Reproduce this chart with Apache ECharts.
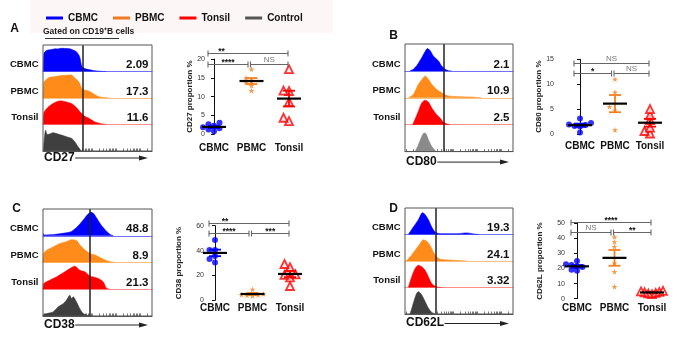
<!DOCTYPE html>
<html><head><meta charset="utf-8">
<script src="https://cdn.jsdelivr.net/npm/echarts@6/dist/echarts.min.js"></script>
<style>html,body{margin:0;padding:0;background:#fff}#c{width:685px;height:338px}</style>
</head><body><div id="c"></div>
<script>
// ---------------- DATA ----------------
const groups = ['CBMC', 'PBMC', 'Tonsil'];
const legendNames = ['CBMC', 'PBMC', 'Tonsil', 'Control'];
const markers = ['CD27', 'CD80', 'CD38', 'CD62L'];
const panelLetters = ['A', 'B', 'C', 'D'];
const gateTitle = 'Gated on CD19\u207AB cells';
const gates = [36.7, 36.2, 43.1, 28.4];           // gate position (channel, 0-100 scale)
const percentA = ['2.09', '17.3', '11.6'];
const percentB = ['2.1', '10.9', '2.5'];
const percentC = ['48.8', '8.9', '21.3'];
const percentD = ['19.3', '24.1', '3.32'];

// histograms: [channel, relative count]
const histA_CBMC = [[0.3,0],[0.9,0.69],[3.1,0.79],[6.1,0.82],[9.2,0.84],[11.5,0.86],[13.8,0.85],[16.5,0.875],[19.9,0.87],[24.5,0.86],[27.5,0.81],[30.6,0.75],[33.6,0.56],[35.2,0.25],[36.7,0.15],[39.8,0.09],[45.9,0.04],[52,0.01],[58,0]];
const histA_PBMC = [[0.3,0],[0.9,0.6],[3.1,0.7],[6.1,0.78],[10.7,0.8],[15.3,0.84],[21.4,0.86],[26,0.87],[29,0.76],[33,0.6],[36.1,0.33],[39.1,0.29],[42.8,0.25],[45.9,0.17],[50.5,0.06],[55,0.02],[61.2,0]];
const histA_Tonsil = [[0.3,0],[0.9,0.45],[4.6,0.65],[9.2,0.79],[13.8,0.88],[16.8,0.89],[21.4,0.85],[26,0.79],[30.6,0.64],[35.2,0.42],[38.2,0.31],[42.8,0.22],[47.4,0.1],[52,0.04],[58,0]];
const histA_Control = [[0.3,0],[1.2,0.45],[2.4,0.78],[4,0.62],[6.1,0.64],[9.2,0.69],[12.2,0.66],[16.8,0.6],[21.4,0.54],[26,0.48],[29,0.36],[31.5,0.2],[33.6,0.08],[35.2,0]];
const histB_CBMC = [[4.6,0],[7.7,0.06],[10.8,0.19],[15.5,0.49],[18.6,0.72],[20.7,0.83],[23.2,0.76],[26.3,0.55],[31,0.37],[34,0.18],[37.2,0.06],[40.2,0.01],[43.3,0]];
const histB_PBMC = [[3.1,0],[7.7,0.12],[12.4,0.5],[17,0.75],[18.6,0.81],[21.7,0.69],[24.8,0.5],[29.4,0.31],[34,0.19],[37.2,0.1],[41.8,0.06],[51,0.04],[60.4,0.03],[68,0.01],[71,0]];
const histB_Tonsil = [[7.1,0],[9.3,0.2],[12.4,0.5],[15.5,0.81],[18.6,0.91],[21.7,0.84],[24.8,0.62],[29.4,0.37],[32.5,0.25],[35.6,0.09],[38.7,0.03],[41.8,0]];
const histB_Control = [[9.3,0],[12.4,0.25],[15.5,0.56],[17.6,0.69],[19.5,0.66],[21.7,0.44],[24.8,0.19],[27.9,0.04],[29.4,0]];
const histC_CBMC = [[0,0.08],[1.5,0.03],[10.8,0.05],[20,0.1],[26.2,0.16],[32.3,0.37],[36.9,0.59],[40.6,0.78],[43.7,0.88],[46.2,0.84],[49.2,0.66],[53.8,0.37],[58.5,0.16],[61.5,0.05],[64.6,0]];
const histC_PBMC = [[0,0],[0.6,0.34],[3.1,0.45],[9.2,0.58],[15.4,0.71],[21.5,0.78],[26.2,0.85],[30.8,0.82],[33.8,0.66],[38.5,0.47],[43.1,0.34],[47.7,0.28],[52.3,0.19],[56.9,0.09],[61.5,0.03],[66.2,0]];
const histC_Tonsil = [[0,0],[0.6,0.21],[6.2,0.34],[12.3,0.46],[20,0.65],[26.2,0.81],[29.2,0.86],[33.8,0.71],[38.5,0.65],[43.1,0.49],[46.2,0.46],[50.8,0.4],[55.4,0.27],[57.8,0.06],[60,0.01],[61.5,0]];
const histC_Control = [[0,0],[0.6,0.06],[4.6,0.1],[9.2,0.15],[13.8,0.34],[18.5,0.46],[21.5,0.59],[24.6,0.78],[26.2,0.65],[27.7,0.72],[30.8,0.52],[33.8,0.27],[36.9,0.09],[40.6,0.03],[43.1,0]];
const histD_CBMC = [[3.1,0],[7.7,0.28],[12.4,0.56],[16.1,0.82],[18,0.78],[21.7,0.56],[24.8,0.28],[27.9,0.09],[31,0.04],[38.7,0.03],[48,0.03],[57.3,0.06],[63.5,0.02],[68.1,0]];
const histD_PBMC = [[0.9,0],[2.2,0.05],[4.6,0.15],[9.3,0.4],[13.9,0.65],[17,0.8],[20.1,0.75],[23.2,0.59],[26.3,0.34],[29.4,0.15],[32.5,0.07],[40.2,0.04],[48,0.02],[57.3,0]];
const histD_Tonsil = [[3.1,0],[4.6,0.2],[6.2,0.4],[9.3,0.71],[12.4,0.84],[15.5,0.78],[18.6,0.65],[21.7,0.4],[24.8,0.15],[27.9,0.05],[31,0.01],[34,0]];
const histD_Control = [[4.6,0],[6.2,0.2],[7.7,0.41],[10.8,0.78],[12.4,0.84],[15.5,0.72],[18.6,0.47],[21.7,0.22],[24.8,0.06],[27.9,0]];

// dot plots (% positive)
const cd27_CBMC = [0.8, 1.3, 1.6, 1.9, 2.3, 2.7, 3.1];
const cd27_PBMC = [11.6, 12.9, 13.8, 14.3, 15.0, 17.3];
const cd27_Tonsil = [3.5, 4.4, 8.6, 11.5, 11.6, 17.3];
const cd80_CBMC = [0.3, 1.5, 1.6, 1.8, 1.9, 2.2, 3.1];
const cd80_PBMC = [0.8, 4.8, 5.5, 8.4, 11.0];
const cd80_Tonsil = [0.1, 0.6, 1.3, 2.8, 3.8, 5.0];
const cd38_CBMC = [30.5, 33.2, 35.6, 40.4, 40.5, 48.5];
const cd38_PBMC = [3.6, 4.0, 4.3, 4.5, 5.2, 8.8];
const cd38_Tonsil = [11.5, 18.5, 20.4, 20.9, 26.6, 29.2];
const cd62l_CBMC = [18.5, 19.2, 21.0, 21.5, 22.3, 22.8, 25.0];
const cd62l_PBMC = [8.0, 17.9, 23.5, 34.5, 37.6, 41.0];
const cd62l_Tonsil = [3.0, 3.5, 3.8, 4.2, 4.5, 4.8, 5.2];

// y tick labels
const cd27Ticks = [0, 5, 10, 15, 20];
const cd80Ticks = [0, 5, 10, 15];
const cd38Ticks = [0, 20, 40, 60];
const cd62lTicks = [0, 10, 20, 30, 40, 50];

// significance: [from group, to group, label, level (%)]
const cd27Sig = [[0, 2, '**', 21.5], [0, 1, '****', 18.8], [1, 2, 'NS', 18.8]];
const cd80Sig = [[0, 2, 'NS', 14.2], [0, 1, '*', 12.2], [1, 2, 'NS', 12.2]];
const cd38Sig = [[0, 2, '**', 61.9], [0, 1, '****', 53.8], [1, 2, '***', 53.8]];
const cd62lSig = [[0, 2, '****', 51.1], [0, 1, 'NS', 44.5], [1, 2, '**', 44.5]];

// ---------------- STYLE / LAYOUT ----------------
const FONT = "'Liberation Sans', Arial, sans-serif";
const histColors = ['#0000ff', '#ff8c1a', '#ff0000'];
const controlColors = ['#3f3f3f', '#8a8a8a', '#3f3f3f', '#3f3f3f'];
const baseColors = ['#7070ff', '#ffbf80', '#ff8f8f'];
const dotColors = ['#0000ff', '#f5801f', '#ff0000'];
const legendColors = ['#0000ff', '#f27b21', '#ff0000', '#555555'];
const STAR = 'path://M50,0 L61,35 L98,35 L68,57 L79,91 L50,70 L21,91 L32,57 L2,35 L39,35 Z';

const layout = [
  { letter: [14.5, 28.5], hist: { x: 43, y: 45, w: 109, rh: 26.5 }, nameDy: 6.5,
    dot: { x: 208, y: 59, h: 75.3, sp: 37.5, off: 6, nameGap: 14, margin: 8.5, topFrac: 0.17 } },
  { letter: [393.5, 36], hist: { x: 405, y: 44, w: 108, rh: 26.9 }, nameDy: 10,
    dot: { x: 557, y: 59.3, h: 74.7, sp: 35, off: 23, nameGap: 13, margin: 7.7, topFrac: 0.5 } },
  { letter: [16.5, 208.5], hist: { x: 43, y: 209, w: 109, rh: 26.75 }, nameDy: 8.5,
    dot: { x: 207, y: 225.7, h: 74.6, sp: 37.5, off: 8, nameGap: 24, margin: 2.5, topFrac: 0.2 } },
  { letter: [393.5, 208.5], hist: { x: 405, y: 208, w: 108, rh: 26.5 }, nameDy: 9,
    dot: { x: 568, y: 223.3, h: 75.4, sp: 37.5, off: 9, nameGap: 24, margin: 4.6, topFrac: 0.5 } }
];

const hists = [
  [histA_CBMC, histA_PBMC, histA_Tonsil, histA_Control],
  [histB_CBMC, histB_PBMC, histB_Tonsil, histB_Control],
  [histC_CBMC, histC_PBMC, histC_Tonsil, histC_Control],
  [histD_CBMC, histD_PBMC, histD_Tonsil, histD_Control]
];
const percents = [percentA, percentB, percentC, percentD];
const dots = [
  [cd27_CBMC, cd27_PBMC, cd27_Tonsil],
  [cd80_CBMC, cd80_PBMC, cd80_Tonsil],
  [cd38_CBMC, cd38_PBMC, cd38_Tonsil],
  [cd62l_CBMC, cd62l_PBMC, cd62l_Tonsil]
];
const tickSets = [cd27Ticks, cd80Ticks, cd38Ticks, cd62lTicks];
const sigs = [cd27Sig, cd80Sig, cd38Sig, cd62lSig];

// log-like minor ticks on the flow axis
const logTicks = [];
for (let d = 0; d < 5; d++) for (let k = 1; k < 10; k++) {
  const v = 1 + d * 22 + Math.log10(k) * 22;
  if (v <= 99) logTicks.push(+v.toFixed(2));
}

const measure = (() => {
  const ctx = document.createElement('canvas').getContext('2d');
  return (t, font) => { ctx.font = font; return ctx.measureText(t).width; };
})();

function stats(v) {
  const n = v.length, m = v.reduce((a, b) => a + b, 0) / n;
  const sd = Math.sqrt(v.reduce((a, b) => a + (b - m) * (b - m), 0) / (n - 1));
  return [m, sd / Math.sqrt(n)];
}

// beeswarm-style horizontal spreading (pixel offsets), limited to +-11 px
function swarm(vals, g, pxY, pxX) {
  const sorted = vals.slice().sort((a, b) => a - b);
  const placed = [];
  const dxMin = 5.5, dyMin = 4.5, step = 2.75, maxOff = 11;
  sorted.forEach(v => {
    const y = v * pxY;
    for (let k = 0; k < 60; k++) {
      const off = (k === 0 ? 0 : (k % 2 ? -Math.ceil(k / 2) : k / 2)) * step;
      if (placed.every(p => Math.abs(p.x - off) >= dxMin || Math.abs(p.y - y) >= dyMin)) {
        placed.push({ x: off, y, v }); break;
      }
    }
  });
  const mx = Math.max.apply(null, placed.map(p => Math.abs(p.x)));
  const sc = mx > maxOff ? maxOff / mx : 1;
  return placed.map(p => [g + p.x * sc / pxX, p.v]);
}

const grids = [], xAxes = [], yAxes = [], series = [], graphics = [];

// background behind legend
graphics.push({ type: 'rect', z: -10, shape: { x: 30, y: 0, width: 303, height: 33 }, style: { fill: '#fdf6f6' } });

for (let p = 0; p < 4; p++) {
  const L = layout[p], H = L.hist;
  // ---- histogram rows ----
  for (let r = 0; r < 4; r++) {
    const gi = grids.length;
    grids.push({ left: H.x, top: H.y + r * H.rh, width: H.w, height: H.rh });
    const isLast = r === 3;
    xAxes.push({
      gridIndex: gi, type: 'value', min: 0, max: 100,
      axisLine: { show: true, onZero: false, lineStyle: { color: isLast ? '#555' : baseColors[r], width: 1 } },
      axisTick: isLast ? { show: true, inside: true, length: 2.5, customValues: logTicks, lineStyle: { color: '#555', width: 0.8 } } : { show: false },
      axisLabel: { show: false }, splitLine: { show: false }
    });
    yAxes.push({ gridIndex: gi, type: 'value', min: 0, max: 1, show: false });
    const col = r < 3 ? histColors[r] : controlColors[p];
    series.push({
      type: 'line', name: legendNames[r], xAxisIndex: gi, yAxisIndex: gi,
      data: hists[p][r], showSymbol: false, smooth: 0.25,
      lineStyle: { color: col, width: 0.6 }, itemStyle: { color: col },
      areaStyle: { color: col, opacity: 1 }, z: 2,
      markLine: {
        silent: true, symbol: ['none', 'none'], label: { show: false },
        lineStyle: { color: '#222', width: 1.5, type: 'solid' },
        data: [{ xAxis: gates[p] }]
      }
    });
    if (r < 3) {
      graphics.push({ type: 'text', x: H.x - 4.5, y: H.y + (r + 1) * H.rh - 7, z: 20,
        style: { text: groups[r], fontFamily: FONT, fontSize: 9.5, fontWeight: 'bold', fill: '#111', align: 'right', verticalAlign: 'middle' } });
      graphics.push({ type: 'text', x: H.x + H.w - 3.5, y: H.y + (r + 1) * H.rh - 6.5, z: 20,
        style: { text: percents[p][r], fontFamily: FONT, fontSize: 11.5, fontWeight: 'bold', fill: '#111', align: 'right', verticalAlign: 'middle' } });
    }
  }
  // box
  graphics.push({ type: 'rect', z: 15, shape: { x: H.x, y: H.y, width: H.w, height: 4 * H.rh }, style: { fill: 'none', stroke: '#555', lineWidth: 1 } });
  // panel letter
  graphics.push({ type: 'text', x: L.letter[0], y: L.letter[1], z: 20,
    style: { text: panelLetters[p], fontFamily: FONT, fontSize: 12, fontWeight: 'bold', fill: '#111', align: 'center', verticalAlign: 'middle' } });
  // marker axis name + arrow
  const ny = H.y + 4 * H.rh + L.nameDy;
  const nFont = 'bold 12px ' + FONT;
  const tw = measure(markers[p], nFont);
  graphics.push({ type: 'text', x: H.x + 1, y: ny, z: 20,
    style: { text: markers[p], fontFamily: FONT, fontSize: 12, fontWeight: 'bold', fill: '#111', align: 'left', verticalAlign: 'middle' } });
  const ax1 = H.x + 1 + tw + 0.5, ax2 = H.x + H.w - 4;
  graphics.push({ type: 'line', z: 20, shape: { x1: ax1, y1: ny + 0.5, x2: ax2 - 6, y2: ny + 0.5 }, style: { stroke: '#222', lineWidth: 1 } });
  graphics.push({ type: 'polygon', z: 20, shape: { points: [[ax2, ny + 0.5], [ax2 - 9, ny - 2], [ax2 - 9, ny + 3]] }, style: { fill: '#222' } });

  // ---- dot plot ----
  const D = L.dot, T = tickSets[p];
  const gi = grids.length;
  const xmin = -D.off / D.sp, xmax = 2.45;
  grids.push({ left: D.x, top: D.y, width: (xmax - xmin) * D.sp, height: D.h });
  xAxes.push({
    gridIndex: gi, type: 'value', min: xmin, max: xmax,
    axisLine: { show: false }, axisTick: { show: false }, splitLine: { show: false },
    axisLabel: { customValues: [0, 1, 2], formatter: v => groups[Math.round(v)], fontFamily: FONT, fontSize: 10, fontWeight: 'bold', color: '#111', margin: D.margin }
  });
  const ymin = T[0], ymaxV = T[T.length - 1];
  yAxes.push({
    gridIndex: gi, type: 'value', min: ymin, max: ymaxV, interval: T[1] - T[0],
    axisLine: { show: true, lineStyle: { color: '#111', width: 1 } },
    axisTick: { show: true, length: 3, lineStyle: { color: '#111' } },
    axisLabel: { fontFamily: FONT, fontSize: 7, color: '#333', margin: 3 },
    splitLine: { show: false },
    name: markers[p] + ' proportion %', nameLocation: 'middle', nameGap: D.nameGap,
    nameTextStyle: { fontFamily: FONT, fontSize: 8, fontWeight: 'bold', color: '#222' }
  });
  const pxY = D.h / (ymaxV - ymin);
  const symbols = [
    { symbol: 'circle', symbolSize: 6, itemStyle: { color: dotColors[0] } },
    { symbol: STAR, symbolSize: 6, itemStyle: { color: dotColors[1] } },
    { symbol: 'triangle', symbolSize: 8, itemStyle: { color: 'rgba(255,235,235,0.9)', borderColor: dotColors[2], borderWidth: 1.8 } }
  ];
  for (let g = 0; g < 3; g++) {
    series.push(Object.assign({
      type: 'scatter', xAxisIndex: gi, yAxisIndex: gi, z: 3, clip: false,
      data: swarm(dots[p][g], g, pxY, D.sp)
    }, symbols[g]));
  }
  series.push({
    type: 'custom', xAxisIndex: gi, yAxisIndex: gi, z: 4, clip: false,
    data: dots[p].map((v, g) => [g].concat(stats(v))),
    renderItem: (params, api) => {
      const g = api.value(0), m = api.value(1), s = api.value(2);
      const c = api.coord([g, m]), t = api.coord([g, m + s]), b = api.coord([g, m - s]);
      const col = dotColors[g];
      const st = { stroke: col, lineWidth: 1.8 };
      return { type: 'group', children: [
        { type: 'line', shape: { x1: c[0], y1: t[1], x2: c[0], y2: b[1] }, style: st },
        { type: 'line', shape: { x1: c[0] - 6, y1: t[1], x2: c[0] + 6, y2: t[1] }, style: st },
        { type: 'line', shape: { x1: c[0] - 6, y1: b[1], x2: c[0] + 6, y2: b[1] }, style: st },
        { type: 'line', shape: { x1: c[0] - 12, y1: c[1], x2: c[0] + 12, y2: c[1] }, style: { stroke: '#000', lineWidth: 2.2 } }
      ] };
    }
  });
  const sg = sigs[p];
  series.push({
    type: 'custom', xAxisIndex: gi, yAxisIndex: gi, z: 5, clip: false,
    data: sg.map(b => [b[0], b[3]]),
    renderItem: (params, api) => {
      const b = sg[params.dataIndex];
      const p1 = api.coord([b[0], b[3]]), p2 = api.coord([b[1], b[3]]);
      const x1 = p1[0] + (b[0] === 0 ? -6 : -1);
      const x2 = p2[0] + (b[1] === 2 ? -1 : -3.5);
      const y = Math.round(p1[1]) + 0.5;
      const ns = b[2] === 'NS';
      const frac = (b[0] === 0 && b[1] === 2) ? D.topFrac : 0.5;
      const st = { stroke: '#666', lineWidth: 1.1 };
      return { type: 'group', children: [
        { type: 'line', shape: { x1, y1: y, x2, y2: y }, style: st },
        { type: 'line', shape: { x1, y1: y - 3, x2: x1, y2: y + 3 }, style: st },
        { type: 'line', shape: { x1: x2, y1: y - 3, x2, y2: y + 3 }, style: st },
        { type: 'text', x: x1 + (x2 - x1) * frac, y: ns ? y - 4.5 : y - 1.5,
          style: { text: b[2], fontFamily: FONT, fontSize: ns ? 8 : 8.5, fontWeight: ns ? 'normal' : 'bold', fill: ns ? '#777' : '#111', align: 'center', verticalAlign: 'middle' } }
      ] };
    }
  });
}

// gated title
graphics.push({ type: 'text', x: 43, y: 31.5, z: 20,
  style: { text: gateTitle, fontFamily: FONT, fontSize: 8.5, fontWeight: 'bold', fill: '#222', align: 'left', verticalAlign: 'middle' } });
graphics.push({ type: 'line', z: 20, shape: { x1: 45, y1: 38.5, x2: 119, y2: 38.5 }, style: { stroke: '#333', lineWidth: 1 } });

const chart = echarts.init(document.getElementById('c'));
chart.setOption({
  animation: false,
  backgroundColor: '#ffffff',
  legend: {
    left: 41, top: 8, itemWidth: 17, itemHeight: 3, itemGap: 15, icon: 'rect', selectedMode: false,
    textStyle: { fontFamily: FONT, fontSize: 10, fontWeight: 'bold', color: '#111' },
    data: legendNames.map((n, i) => ({ name: n, itemStyle: { color: legendColors[i] } }))
  },
  grid: grids, xAxis: xAxes, yAxis: yAxes, series: series, graphic: graphics
});
</script></body></html>
